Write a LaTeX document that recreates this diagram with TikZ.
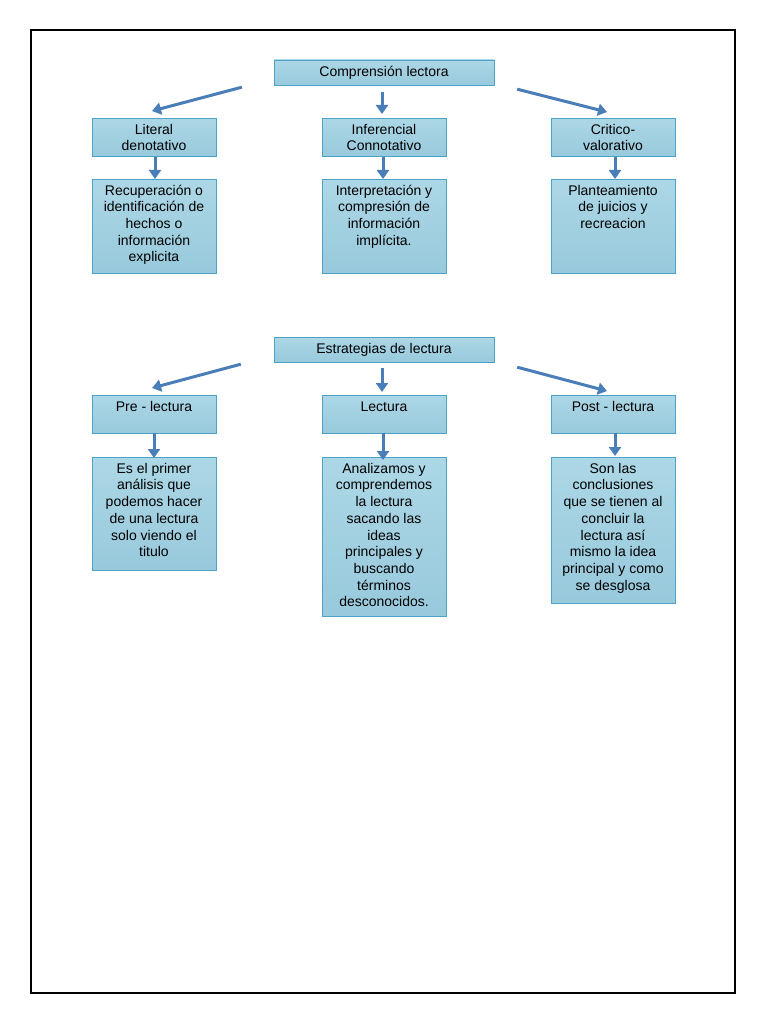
\documentclass[tikz,border=0pt]{standalone}
\usepackage{fontspec}
\setmainfont{Liberation Sans}
\usepackage{tikz}
\usetikzlibrary{
  arrows.meta,
  positioning,
  calc
}
\usepackage{xcolor}
\definecolor{boxTop}{rgb}{0.67578125,0.84375,0.90234375}
\definecolor{boxBottom}{rgb}{0.59375,0.7890625,0.86328125}
\definecolor{boxEdge}{rgb}{0.30078125,0.640625,0.77734375}
\definecolor{arrowBlue}{rgb}{0.2890625,0.4921875,0.7265625}
\newcommand{\topicNode}[3]{\node[topic] (#1) at (384,#2) {#3};}
\newcommand{\levelNode}[5]{\node[level] (#1) at (#2,#3)%
  {\parbox[t][#4pt][t]{124pt}{\centering\rule{0pt}{16pt}#5}};}
\tikzset{
  topic/.style={
    rectangle,
    draw=boxEdge,
    top color=boxTop,
    bottom color=boxBottom,
    minimum width=220pt,
    minimum height=25pt,
    inner sep=0pt,
    font=\fontsize{14}{16.7}\selectfont,
    text=black
  }
}
\tikzset{
  level/.style={
    rectangle,
    draw=boxEdge,
    top color=boxTop,
    bottom color=boxBottom,
    inner sep=0pt,
    anchor=north,
    font=\fontsize{14}{16.7}\selectfont,
    text=black
  }
}
\tikzset{
  flow/.style={
    -{Triangle[width=12pt,length=9pt]},
    line width=3pt,
    draw=arrowBlue
  }
}

\begin{document}
\begin{tikzpicture}[x=1pt, y=-1pt]
    \fill[white] (0,0) rectangle (768,1024);
    \draw[line width=2pt] (31,30) rectangle (735,993);

    % comprension lectora
    \topicNode{comp}{72.5}{Comprensión lectora}
    \foreach \name/\x/\txt in {lit/154/Literal\\denotativo,
      inf/384/Inferencial\\Connotativo, crit/613/Critico-\\valorativo}
      \levelNode{\name}{\x}{118}{38.5}{\txt}
    ;
    \levelNode{recup}{154}{179}{94}{Recuperación o\\identificación de\\%
      hechos o\\información\\explicita}
    \levelNode{interp}{384}{179}{94}{Interpretación y\\compresión de\\%
      información\\implícita.}
    \levelNode{plant}{613}{179}{94}{Planteamiento\\de juicios y\\recreacion}

    % estrategias de lectura
    \topicNode{estr}{349.5}{Estrategias de lectura}
    \foreach \name/\x/\txt in {pre/154/Pre - lectura,
      lect/384/Lectura, post/613/Post - lectura}
      \levelNode{\name}{\x}{395}{38}{\txt}
    ;
    \levelNode{primer}{154}{457}{113}{Es el primer\\análisis que\\%
      podemos hacer\\de una lectura\\solo viendo el\\titulo}
    \levelNode{analiz}{384}{457}{159}{Analizamos y\\comprendemos\\%
      la lectura\\sacando las\\ideas\\principales y\\buscando\\%
      términos\\desconocidos.}
    \levelNode{concl}{613}{457}{146}{Son las\\conclusiones\\%
      que se tienen al\\concluir la\\lectura así\\mismo la idea\\%
      principal y como\\se desglosa}

    \draw[flow] ($(comp.south west)+(-32,2)$) -- ($(lit.north)+(-2,-7)$);
    \draw[flow] ($(comp.south)+(-2,7)$) -- ($(inf.north)+(-2,-4)$);
    \draw[flow] ($(comp.south east)+(23,4)$) -- ($(crit.north)+(-6,-6)$);

    \draw[flow] ($(estr.south west)+(-33,2)$) -- ($(pre.north)+(-2,-7)$);
    \draw[flow] ($(estr.south)+(-2,6)$) -- ($(lect.north)+(-2,-3)$);
    \draw[flow] ($(estr.south east)+(23,5)$) -- ($(post.north)+(-6,-4)$);

    \foreach \upper/\lower/\dx/\dy in {lit/recup/1/0, inf/interp/-1/0,
      crit/plant/2/0, pre/primer/0/1, lect/analiz/-1/3, post/concl/2/-1}{%
        \draw[flow] ($(\upper.south)+(\dx,0)$) -- ($(\lower.north)+(\dx,\dy)$);%
    }
\end{tikzpicture}
\end{document}
